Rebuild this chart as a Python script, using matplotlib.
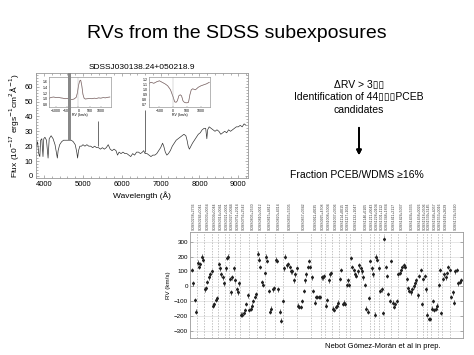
import matplotlib.pyplot as plt
from matplotlib.patches import Rectangle

plt.rcParams['font.family'] = ['Liberation Sans', 'DejaVu Sans']

# spectrum of SDSSJ030138.24+050218.9
wl = [3800, 3830, 3860, 3889, 3910, 3940, 3970, 3990, 4020, 4060, 4101, 4130, 4180, 4230,
      4280, 4320, 4340, 4360, 4400, 4450, 4500, 4550, 4600, 4650, 4700, 4750, 4800, 4840,
      4861, 4885, 4920, 4960, 5000, 5050, 5100, 5150, 5200, 5250, 5300, 5350, 5400, 5450,
      5500, 5550, 5600, 5650, 5700, 5750, 5800, 5850, 5890, 5930, 5980, 6030, 6080, 6130,
      6180, 6230, 6280, 6330, 6380, 6430, 6480, 6530, 6563, 6600, 6650, 6700, 6750, 6800,
      6850, 6900, 6950, 7000, 7050, 7080, 7120, 7160, 7200, 7250, 7300, 7350, 7400, 7450,
      7500, 7550, 7600, 7650, 7680, 7710, 7740, 7780, 7820, 7870, 7920, 7970, 8020, 8070,
      8120, 8160, 8190, 8210, 8250, 8300, 8350, 8400, 8450, 8500, 8550, 8600, 8650, 8700,
      8750, 8800, 8850, 8900, 8950, 9000, 9050, 9100, 9150, 9200]
flux = [20, 23, 15, 13, 24, 25, 13, 25, 26, 24, 12, 25, 27, 25,
        21, 15, 12, 17, 21, 23, 24, 24, 24, 24, 24, 23, 21, 16,
        12, 17, 20, 20, 21, 20, 21, 20, 20, 19, 20, 19, 19, 18,
        19, 18, 19, 21, 18, 17, 18, 17, 14, 16, 15, 16, 15, 15,
        14, 13, 15, 14, 16, 16, 15, 16, 17, 15, 15, 14, 13, 14,
        14, 15, 17, 19, 22, 20, 16, 14, 15, 17, 20, 22, 24, 25,
        26, 27, 28, 27, 24, 20, 18, 20, 22, 24, 26, 28, 29, 31,
        32, 32, 25, 31, 33, 32, 31, 30, 31, 30, 28, 29, 30, 29,
        31, 30, 31, 32, 33, 33, 34, 33, 35, 34]

# inset line profiles
rv_a = [-1300, -1200, -1100, -1000, -900, -800, -700, -600, -500, -400, -300, -200, -100,
        -50, 0, 50, 100, 150, 200, 250, 300, 400, 500, 600, 700, 800, 900, 1000, 1100,
        1200, 1300, 1400]
prof_a = [1.02, 1.05, 1.06, 1.04, 1.05, 1.03, 1.02, 1.0, 1.01, 0.98, 0.97, 0.99, 1.05,
          1.2, 1.45, 1.62, 1.65, 1.45, 1.15, 1.02, 0.99, 1.0, 1.01, 1.0, 1.02, 1.01, 1.03,
          1.02, 1.04, 1.03, 1.05, 1.06]
rv_b = [-900, -800, -700, -600, -500, -400, -300, -200, -100, 0, 50, 100, 150, 200, 250,
        300, 350, 400, 450, 500, 550, 600, 650, 700, 800, 900, 1000, 1100, 1200, 1300]
prof_b = [1.12, 1.15, 1.13, 1.16, 1.18, 1.15, 1.12, 1.08, 1.0, 0.85, 0.76, 0.75, 0.78,
          0.88, 0.9, 0.88, 0.78, 0.75, 0.74, 0.74, 0.75, 0.9, 1.0, 1.02, 1.0, 1.05, 1.08,
          1.1, 1.12, 1.15]

# radial velocities of the subexposures, one list per object
names = ["SDSS0238+2736", "SDSS0246+0041", "SDSS0303+0054", "SDSS0309+0044",
         "SDSS0314+0041", "SDSS0321+0001", "SDSS0327+0044", "SDSS0751+2014",
         "SDSS0756+2542", "SDSS0805+2530", "SDSS0810+0012", "SDSS0815+4812",
         "SDSS0820+4314", "SDSS0835+5305", "SDSS0857+0342", "SDSS0911+0035",
         "SDSS0925+4708", "SDSS1008+5004", "SDSS1037+0306", "SDSS1114+0015",
         "SDSS1127+1024", "SDSS1132+1047", "SDSS1146+0105", "SDSS1211+0043",
         "SDSS1228+0104", "SDSS1301+1112", "SDSS1348+1834", "SDSS1411+2117",
         "SDSS1424+5037", "SDSS1434+5335", "SDSS1458+0026", "SDSS1518+0506",
         "SDSS1539+3145", "SDSS1548+4057", "SDSS1553+0016", "SDSS1649+2629",
         "SDSS1724+5620"]
rv_groups = [
    [110, 20, -90, -170],
    [160, 130, 150, 200, 180],
    [-20, -10, 30, 60, 80, 100],
    [-130, -120, -90, -80],
    [150, 120, 80, 60, 20],
    [120, 190, 200],
    [50, -40, 60, 120],
    [40, -20, -40, 20],
    [-190, -190, -180, -160, -120, -60],
    [-160, -150, -130, -100, -70, -50],
    [220, 180, 130, 30, 10, 90],
    [200, 170, -30, -170, -150, -20, -10],
    [180, 170, -20, -170, -230, -100],
    [120, 200, 140, 150, 130, 100, 100, 40, 80, 120],
    [-130, -140, -140, -100, -30, 40, 80, 130, 170, 130],
    [60, -30, -110, -70, -70, -70, -70],
    [60, 60, 70],
    [-130, -90, 40, 80, 90],
    [-150, -160, -140, -130, -110],
    [50, 110, -120, -110, -120],
    [10, 40, 10],
    [190, 130, 110, 80, 70, 100, 140, 120],
    [100, 60, 10, -150, -170, -80],
    [170, 120, 80],
    [-190, 200, 180, 120],
    [-30, -20, -180],
    [320, 130, 70, -50, -100],
    [170, -110, -140, -120, -100],
    [80, 90, 110, 130, 140, 130],
    [50, -10, -30, -40, -20, 0, 20, 40],
    [-60, 70, 110, -120],
    [50, 70, -20],
    [-190, -220, -220],
    [-150, -100, -160, -150, -130],
    [10, 110, -180],
    [50, 80, 60, 90, 130, 110],
    [-70, -40, -110, 100, 110, 20, 30, 40],
]
rv_err = 15

W, H = 474, 355


def box(x0, y0, x1, y1):
    return [x0 / W, 1 - y1 / H, (x1 - x0) / W, (y1 - y0) / H]


fig = plt.figure(figsize=(W / 100, H / 100), dpi=100)
fig.text(237 / W, 1 - 33 / H, "RVs from the SDSS subexposures", ha='center', va='center',
         fontsize=14)

# ---- spectrum
ax1 = fig.add_axes(box(36, 72.7, 248, 178.3))
ax1.plot(wl, flux, color='#333333', lw=0.5)
ax1.set_xlim(3790, 9250)
ax1.set_ylim(-1.6, 69.4)
ax1.set_xticks(range(4000, 9001, 1000))
ax1.set_yticks(range(0, 61, 10))
ax1.minorticks_on()
ax1.tick_params(which='both', direction='in', top=True, right=True, labelsize=5.5,
                width=0.4, color='#777777', pad=2)
ax1.tick_params(which='major', length=2.5)
ax1.tick_params(which='minor', length=1.2)
for s in ax1.spines.values():
    s.set_color('#999999')
    s.set_linewidth(0.6)
ax1.set_title("SDSSJ030138.24+050218.9", fontsize=6, pad=3)
ax1.set_xlabel("Wavelength (Å)", fontsize=6, labelpad=2)
ax1.set_ylabel(r"Flux (10$^{-17}$ ergs$^{-1}$cm$^{2}$Å$^{-1}$)", fontsize=6, labelpad=2)
ax1.vlines(5380, 20, 37, color='#555555', lw=0.6)
ax1.vlines(6600, 16, 44, color='#555555', lw=0.6)

for pos, rv, prof, xl, yl, xt, yt in [
        ((49.3, 77.3, 111, 107.3), rv_a, prof_a, (-1300, 1450), (0.7, 1.75),
         [-1000, -500, 0, 500, 1000], [0.8, 1.0, 1.2, 1.4, 1.6]),
        ((148.7, 77.3, 210, 107.3), rv_b, prof_b, (-885, 1325), (0.65, 1.25),
         [-500, 0, 500, 1000], [0.7, 0.8, 0.9, 1.0, 1.1, 1.2])]:
    ins = fig.add_axes(box(*pos))
    ins.plot(rv, prof, color='#666666', lw=0.5)
    ins.plot(rv, prof, color='#cc6666', lw=0.3, ls=':')
    ins.axvline(0, color='#aaaaaa', lw=0.3)
    ins.set_xlim(*xl)
    ins.set_ylim(*yl)
    ins.set_xticks(xt)
    ins.set_yticks(yt)
    ins.tick_params(direction='in', labelsize=2.5, length=1, width=0.3, pad=1,
                    color='#777777')
    ins.set_xlabel("RV (km/s)", fontsize=2.5, labelpad=0.5)
    for s in ins.spines.values():
        s.set_color('#999999')
        s.set_linewidth(0.5)

band = Rectangle((4625, 24), 75, 69.4 - 24, transform=ax1.transData, color='#888888',
                 lw=0, zorder=5)
fig.add_artist(band)

# ---- text block
fig.text(359 / W, 1 - 85 / H, "ΔRV > 3\u25af\u25af", ha='center', va='center', fontsize=7.5)
fig.text(359 / W, 1 - 97 / H, "Identification of 44\u25af\u25af\u25afPCEB", ha='center',
         va='center', fontsize=7.5)
fig.text(359 / W, 1 - 110 / H, "candidates", ha='center', va='center', fontsize=7.5)
fig.add_artist(plt.annotate("", xy=(359 / W, 1 - 158 / H), xytext=(359 / W, 1 - 125 / H),
                            xycoords='figure fraction', textcoords='figure fraction',
                            arrowprops=dict(arrowstyle='-|>', color='black', lw=1.3,
                                            mutation_scale=7)))
fig.text(357 / W, 1 - 175 / H, "Fraction PCEB/WDMS ≥16%", ha='center', va='center',
         fontsize=7.5)

# ---- RV curves
ax2 = fig.add_axes(box(190, 231.7, 463, 338))
x = 0
bounds = []
centers = []
for g in rv_groups:
    xs = list(range(x, x + len(g)))
    ax2.errorbar(xs, g, yerr=rv_err, fmt='D', ms=1.0, color='#222222', elinewidth=0.5,
                 capsize=0)
    centers.append((xs[0] + xs[-1]) / 2)
    x += len(g)
    bounds.append(x - 0.5)
for b in bounds[:-1]:
    ax2.axvline(b, color='#aaaaaa', ls=(0, (2, 2)), lw=0.5)
ax2.set_xlim(-1.5, x + 0.5)
ax2.set_ylim(-347, 367)
ax2.set_yticks(range(-300, 301, 100))
ax2.set_xticks([])
ax2.yaxis.grid(True, color='#dddddd', lw=0.5)
ax2.set_axisbelow(True)
ax2.tick_params(direction='in', right=True, labelsize=4.5, length=2, width=0.4,
                color='#777777', pad=1.5)
ax2.set_ylabel("RV (km/s)", fontsize=4.5, labelpad=2)
for s in ax2.spines.values():
    s.set_color('#999999')
    s.set_linewidth(0.6)
for c, n in zip(centers, names):
    ax2.text(c, 1.02, n, rotation=90, ha='center', va='bottom', fontsize=2.5,
             color='#333333', transform=ax2.get_xaxis_transform())

fig.text(383 / W, 1 - 346.5 / H, "Nebot Gómez-Morán et al in prep.", ha='center',
         va='center', fontsize=5.5)

fig.savefig("out.png", dpi=100)
